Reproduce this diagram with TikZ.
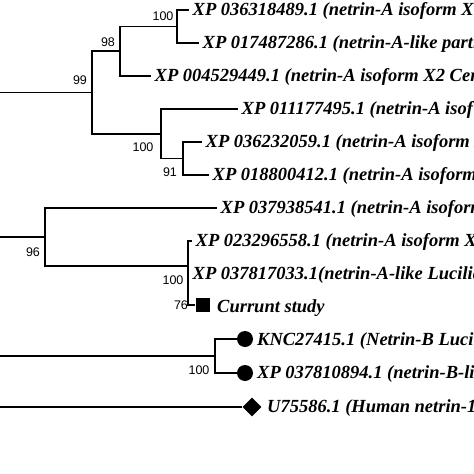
\documentclass[tikz,border=0pt]{standalone}
\usepackage{fontspec}
\setmainfont{Liberation Serif}
\newfontfamily\labfont{Liberation Sans}
\usetikzlibrary{shapes.geometric}
\begin{document}
\begin{tikzpicture}[x=1pt,y=-1pt,
  branch/.style={line width=1.4pt},
  leaf/.style={anchor=west, inner xsep=3.5pt, inner ysep=0pt,
    font=\fontsize{18.5}{20}\selectfont\bfseries\itshape,
    text height=13pt, text depth=1.5pt},
  boot/.style={font=\fontsize{12.5}{13}\selectfont\labfont, inner sep=0pt},
  sqmark/.style={rectangle, fill=black, minimum size=14pt, inner sep=0pt},
  dotmark/.style={circle, fill=black, minimum size=16pt, inner sep=0pt},
  dmmark/.style={diamond, fill=black, minimum size=19pt, inner sep=0pt}]
\useasboundingbox (0,0) rectangle (474,474);
\clip (0,0) rectangle (474,474);
\fill[white] (0,0) rectangle (474,474);

% group 1
\coordinate (r1) at (0,92.5);
\coordinate (n99) at (92,92.5);
\coordinate (n98) at (120,51);
\coordinate (nA) at (177,26.5);
\coordinate (nB) at (161,134);
\coordinate (n91) at (183,158.5);
\node[leaf] (l0) at (189,10) {XP 036318489.1 (netrin-A isoform X1};
\node[leaf] (l1) at (199,43) {XP 017487286.1 (netrin-A-like parti};
\node[leaf] (l2) at (151,76) {XP 004529449.1 (netrin-A isoform X2 Cer};
\node[leaf] (l3) at (238,109) {XP 011177495.1 (netrin-A isof};
\node[leaf] (l4) at (202,142) {XP 036232059.1 (netrin-A isoform X};
\node[leaf] (l5) at (209,175) {XP 018800412.1 (netrin-A isoform};
\draw[branch] (r1) -- (n99);
\draw[branch] (n99) |- (n98);
\draw[branch] (n99) |- (nB);
\draw[branch] (n98) |- (nA);
\draw[branch] (n98) |- (l2.west);
\draw[branch] (nA) |- (l0.west);
\draw[branch] (nA) |- (l1.west);
\draw[branch] (nB) |- (l3.west);
\draw[branch] (nB) |- (n91);
\draw[branch] (n91) |- (l4.west);
\draw[branch] (n91) |- (l5.west);
\node[boot] (b1) at (163,16) {100};
\node[boot] (b2) at (108,42) {98};
\node[boot] (b3) at (80,80) {99};
\node[boot] (b4) at (143,147) {100};
\node[boot] (b5) at (170,172) {91};

% group 2
\coordinate (r2) at (0,237);
\coordinate (n96) at (45,237);
\coordinate (nC) at (188,266);
\coordinate (n76) at (188,290.5);
\node[leaf] (l6) at (217,208) {XP 037938541.1 (netrin-A isoform};
\node[leaf] (l7) at (192,241) {XP 023296558.1 (netrin-A isoform X};
\node[leaf] (l8) at (189,274) {XP 037817033.1(netrin-A-like Lucilia};
\node[sqmark] (sq) at (202.5,305) {};
\node[leaf] (l9) at (213.5,307) {Currunt study};
\draw[branch] (r2) -- (n96);
\draw[branch] (n96) |- (l6.west);
\draw[branch] (n96) |- (nC);
\draw[branch] (nC) |- (l7.west);
\draw[branch] (nC) |- (n76);
\draw[branch] (n76) |- (l8.west);
\draw[branch] (n76) |- (sq.west);
\node[boot] (b6) at (33,252) {96};
\node[boot] (b7) at (173,280) {100};
\node[boot] (b8) at (181,305) {76};

% group 3
\coordinate (r3) at (0,356);
\coordinate (nD) at (215,356);
\node[dotmark] (c1) at (245,339) {};
\node[dotmark] (c2) at (245,373) {};
\node[leaf] (l10) at (253.5,340) {KNC27415.1 (Netrin-B Lucil};
\node[leaf] (l11) at (253.5,373) {XP 037810894.1 (netrin-B-lik};
\draw[branch] (r3) -- (nD);
\draw[branch] (nD) |- (c1.west);
\draw[branch] (nD) |- (c2.west);
\node[boot] (b9) at (199,370) {100};

% outgroup
\coordinate (r4) at (0,407);
\node[dmmark] (dm) at (252,407) {};
\node[leaf] (l12) at (263.5,407) {U75586.1 (Human netrin-1,};
\draw[branch] (r4) -- (dm.west);
\end{tikzpicture}
\end{document}
